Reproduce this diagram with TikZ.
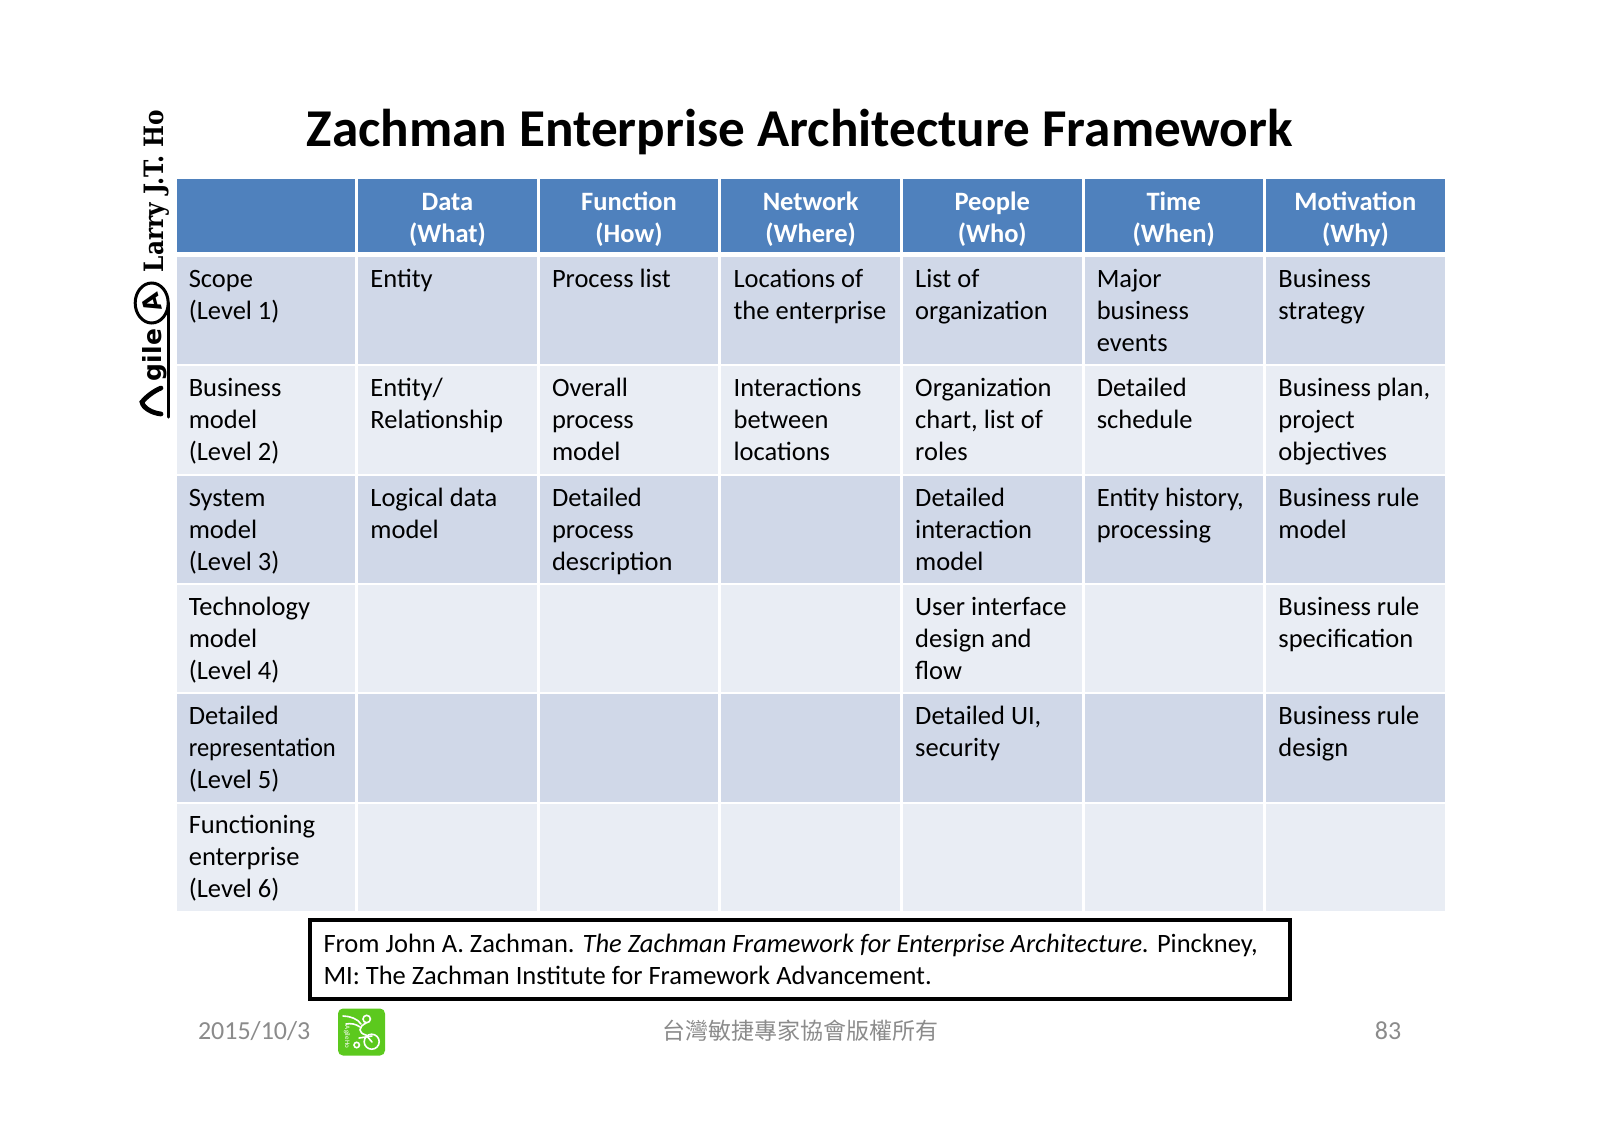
\documentclass[tikz,border=0pt]{standalone}
\usepackage{fontspec}
\setmainfont{Carlito}
\newfontfamily\cjkfont{Noto Sans CJK TC}
\newfontfamily\slabfont{DejaVu Serif}
\newfontfamily\agilefont{DejaVu Sans}
\usepackage{tikz}
\usetikzlibrary{positioning}
\usetikzlibrary{shapes.geometric}
\definecolor{headblue}{HTML}{4F81BD}
\definecolor{rowdark}{HTML}{D0D8E8}
\definecolor{rowlight}{HTML}{E9EDF4}
\definecolor{footgray}{HTML}{8B8B8B}
\definecolor{logogreen}{HTML}{5CC91E}
\newcommand{\celltxt}[1]{\parbox[t][52pt][t]{77pt}{\raggedright\rule{0pt}{14.4pt}#1}}
\newcommand{\headtxt}[1]{\rule{0pt}{13pt}#1}

\begin{document}
\begin{tikzpicture}[
      x=0.5pt, y=-0.5pt,
      every node/.style={inner sep=0pt, outer sep=0pt, font=\fontsize{13.25}{16}\selectfont},
      headcell/.style={fill=headblue, text=white, minimum width=89.3pt, minimum height=36.75pt, align=center,
        font=\fontsize{13.25}{16}\selectfont\bfseries},
      bodycell/.style={minimum width=89.3pt, minimum height=53.65pt, align=left},
      darkcell/.style={bodycell, fill=rowdark},
      lightcell/.style={bodycell, fill=rowlight},
      footer/.style={text=footgray, font=\fontsize{13}{16}\selectfont},
      logoline/.style={draw=white, line width=0.8pt, line cap=round},
      agileline/.style={draw=black, line width=1.6pt, line cap=round}
    ]
    \useasboundingbox (0,0) rectangle (1600,1131);

    \node[font=\fontsize{26.6}{30}\selectfont\bfseries] (title) at (800,132) {Zachman Enterprise Architecture Framework};

    % Kopfzeile
    \node[headcell, anchor=north west] (h0) at (176.5,178.5) {};
    \node[headcell, right=1.5pt of h0] (h1) {\headtxt{Data}\\(What)};
    \node[headcell, right=1.5pt of h1] (h2) {\headtxt{Function}\\(How)};
    \node[headcell, right=1.5pt of h2] (h3) {\headtxt{Network}\\(Where)};
    \node[headcell, right=1.5pt of h3] (h4) {\headtxt{People}\\(Who)};
    \node[headcell, right=1.5pt of h4] (h5) {\headtxt{Time}\\(When)};
    \node[headcell, right=1.5pt of h5] (h6) {\headtxt{Motivation}\\(Why)};

    % Zeile 1
    \node[darkcell, below=2.5pt of h0] (a0) {\celltxt{Scope\\(Level 1)}};
    \node[darkcell, below=2.5pt of h1] (a1) {\celltxt{Entity}};
    \node[darkcell, below=2.5pt of h2] (a2) {\celltxt{Process list}};
    \node[darkcell, below=2.5pt of h3] (a3) {\celltxt{Locations of\\the enterprise}};
    \node[darkcell, below=2.5pt of h4] (a4) {\celltxt{List of\\organization}};
    \node[darkcell, below=2.5pt of h5] (a5) {\celltxt{Major\\business\\events}};
    \node[darkcell, below=2.5pt of h6] (a6) {\celltxt{Business\\strategy}};

    % Zeile 2
    \node[lightcell, below=1pt of a0] (b0) {\celltxt{Business\\model\\(Level 2)}};
    \node[lightcell, below=1pt of a1] (b1) {\celltxt{Entity/\\Relationship}};
    \node[lightcell, below=1pt of a2] (b2) {\celltxt{Overall\\process\\model}};
    \node[lightcell, below=1pt of a3] (b3) {\celltxt{Interactions\\between\\locations}};
    \node[lightcell, below=1pt of a4] (b4) {\celltxt{Organization\\chart, list of\\roles}};
    \node[lightcell, below=1pt of a5] (b5) {\celltxt{Detailed\\schedule}};
    \node[lightcell, below=1pt of a6] (b6) {\celltxt{Business plan,\\project\\objectives}};

    % Zeile 3
    \node[darkcell, below=1pt of b0] (c0) {\celltxt{System\\model\\(Level 3)}};
    \node[darkcell, below=1pt of b1] (c1) {\celltxt{Logical data\\model}};
    \node[darkcell, below=1pt of b2] (c2) {\celltxt{Detailed\\process\\description}};
    \node[darkcell, below=1pt of b3] (c3) {};
    \node[darkcell, below=1pt of b4] (c4) {\celltxt{Detailed\\interaction\\model}};
    \node[darkcell, below=1pt of b5] (c5) {\celltxt{Entity history,\\processing}};
    \node[darkcell, below=1pt of b6] (c6) {\celltxt{Business rule\\model}};

    % Zeile 4
    \node[lightcell, below=1pt of c0] (d0) {\celltxt{Technology\\model\\(Level 4)}};
    \node[lightcell, below=1pt of c1] (d1) {};
    \node[lightcell, below=1pt of c2] (d2) {};
    \node[lightcell, below=1pt of c3] (d3) {};
    \node[lightcell, below=1pt of c4] (d4) {\celltxt{User interface\\design and\\flow}};
    \node[lightcell, below=1pt of c5] (d5) {};
    \node[lightcell, below=1pt of c6] (d6) {\celltxt{Business rule\\specification}};

    % Zeile 5
    \node[darkcell, below=1pt of d0] (e0) {\celltxt{Detailed\\\scalebox{.925}[1]{representation}\\(Level 5)}};
    \node[darkcell, below=1pt of d1] (e1) {};
    \node[darkcell, below=1pt of d2] (e2) {};
    \node[darkcell, below=1pt of d3] (e3) {};
    \node[darkcell, below=1pt of d4] (e4) {\celltxt{Detailed UI,\\security}};
    \node[darkcell, below=1pt of d5] (e5) {};
    \node[darkcell, below=1pt of d6] (e6) {\celltxt{Business rule\\design}};

    % Zeile 6
    \node[lightcell, below=1pt of e0] (f0) {\celltxt{Functioning\\enterprise\\(Level 6)}};
    \node[lightcell, below=1pt of e1] (f1) {};
    \node[lightcell, below=1pt of e2] (f2) {};
    \node[lightcell, below=1pt of e3] (f3) {};
    \node[lightcell, below=1pt of e4] (f4) {};
    \node[lightcell, below=1pt of e5] (f5) {};
    \node[lightcell, below=1pt of e6] (f6) {};

    % Quelle
    \node[draw=black, line width=1.8pt, minimum width=490pt, minimum height=39.5pt]
      (source) at (800,959.5) {\parbox{476.5pt}{\raggedright From John A. Zachman. \textit{The Zachman Framework for Enterprise Architecture.} Pinckney,\\MI: The Zachman Institute for Framework Advancement.}};

    % Fusszeile
    \node[footer, anchor=west] (date) at (198,1031) {2015/10/3};
    \node[footer, font=\fontsize{11.5}{14}\selectfont\cjkfont] (owner) at (800,1031) {台灣敏捷專家協會版權所有};
    \node[footer] (page) at (1388,1031) {83};

    % Logo
    \node[fill=logogreen, rounded corners=2.5pt, minimum size=23.5pt] (logo) at (361.5,1032) {};
    \draw[logoline] (371.7,1041.7) circle (7.5);
    \draw[logoline] (356.7,1045) circle (2.7);
    \draw[logoline] (366.7,1019) circle (3.7);
    \draw[logoline] (366,1023) .. controls (358,1027) and (358,1033) .. (366,1035) -- (372,1042);
    \draw[logoline] (359,1038) -- (372,1036);
    \draw[logoline] (343,1016) .. controls (350,1016) and (358,1019) .. (361,1024);
    \draw[logoline] (346,1024) .. controls (351,1023) and (356,1024) .. (360,1027);
    \node[rotate=-90, text=white, font=\fontsize{3.5}{4}\selectfont] (logotext) at (347,1037) {AgileHo};

    % Randtext
    \node[rotate=90, anchor=base west, font=\fontsize{11.6}{16}\selectfont\slabfont\bfseries] (author) at (163,272) {\scalebox{1}[1.15]{Larry J.T. Ho}};
    \node[rotate=90, anchor=base west, font=\fontsize{12.5}{16}\selectfont\agilefont\bfseries] (agile) at (161,381) {gile};
    \node[draw=black, ellipse, line width=1.5pt, minimum width=16.5pt, minimum height=20pt, font=\fontsize{12}{12}\selectfont\agilefont\bfseries] (ring) at (151.7,303) {\rotatebox{105}{A}};
    \coordinate (lineend) at (ring.east |- 0,417);
    \draw[agileline] (ring.east) -- (lineend);
    \coordinate (foota) at (161,414);
    \coordinate (topa) at (142,402);
    \coordinate (footb) at (161,388);
    \draw[agileline, line width=2.4pt] (foota) .. controls (152,413) and (143,408) .. (topa) .. controls (147,396) and (154,391) .. (footb);
  \end{tikzpicture}
\end{document}
